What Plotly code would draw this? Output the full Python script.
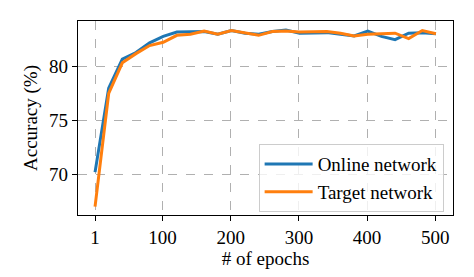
import plotly.graph_objects as go

epochs = [1, 21, 41, 61, 81, 101, 121, 141, 161, 181, 201, 221, 241, 261, 281,
          301, 321, 341, 361, 381, 401, 421, 441, 461, 481, 501]
online = [70.2, 78.0, 80.7, 81.3, 82.2, 82.8, 83.2, 83.2, 83.25, 83.0, 83.35, 83.1, 83.0,
          83.25, 83.4, 83.1, 83.1, 83.15, 83.0, 82.85, 83.3, 82.8, 82.5, 83.1, 83.15, 83.05]
target = [67.0, 77.5, 80.35, 81.2, 81.95, 82.25, 82.9, 83.0, 83.3, 83.0, 83.35, 83.1, 82.9,
          83.25, 83.3, 83.2, 83.25, 83.25, 83.1, 82.85, 83.0, 83.05, 83.1, 82.6, 83.35, 83.05]
xticks = [1, 100, 200, 300, 400, 500]
yticks = [70, 75, 80]

FONT = "Liberation Serif"
FS = 19

fig = go.Figure()
fig.add_trace(go.Scatter(x=epochs, y=online, mode="lines", name="Online network",
                         line=dict(color="#1f77b4", width=3)))
fig.add_trace(go.Scatter(x=epochs, y=target, mode="lines", name="Target network",
                         line=dict(color="#ff7f0e", width=3)))

axis_common = dict(showline=True, linecolor="black", linewidth=1.2, mirror=True,
                   ticks="outside", ticklen=5, tickcolor="black", tickwidth=1.2,
                   showgrid=True, gridcolor="#b0b0b0", griddash="dash", gridwidth=1,
                   zeroline=False, tickfont=dict(family=FONT, size=FS, color="black"))

fig.update_xaxes(range=[-24, 526], tickvals=xticks,
                 title=dict(text="# of epochs", font=dict(family=FONT, size=FS, color="black"),
                            standoff=4),
                 **axis_common)
fig.update_yaxes(range=[66.22, 84.23], tickvals=yticks,
                 title=dict(text="Accuracy (%)", font=dict(family=FONT, size=FS, color="black"),
                            standoff=6),
                 **axis_common)

fig.update_layout(
    width=474, height=277,
    margin=dict(l=78, r=21, t=21, b=59),
    paper_bgcolor="white", plot_bgcolor="white",
    font=dict(family=FONT, size=FS, color="black"),
    legend=dict(x=0.975, y=0.015, xanchor="right", yanchor="bottom",
                bgcolor="rgba(255,255,255,0.8)", bordercolor="#cccccc", borderwidth=1,
                font=dict(family=FONT, size=FS, color="black"),
                tracegroupgap=0, itemwidth=48),
    showlegend=True,
)

fig.write_html("out.html")
